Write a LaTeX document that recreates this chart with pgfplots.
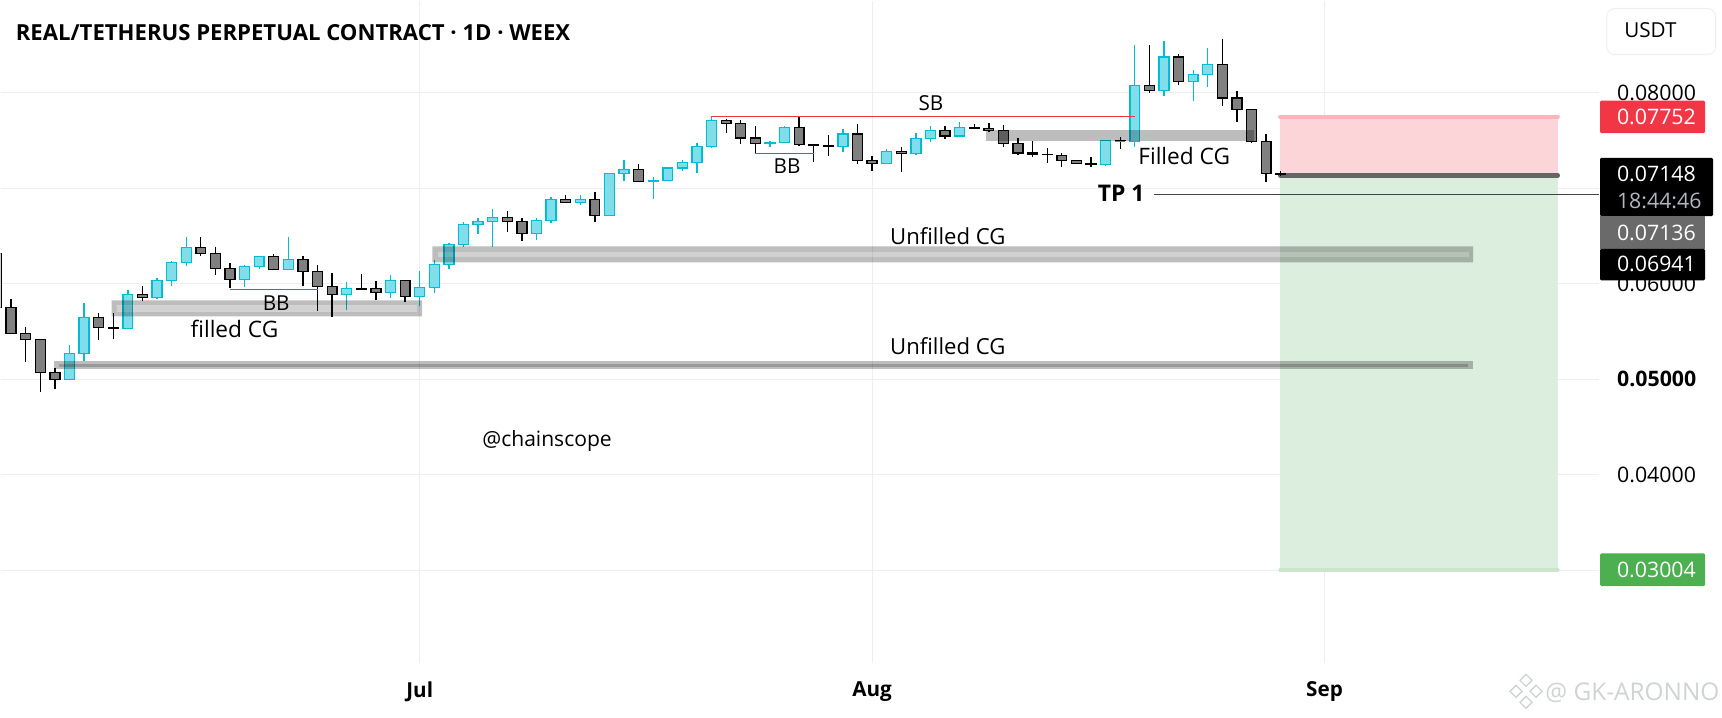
\documentclass[border=0pt]{standalone}
\usepackage{fontspec}
\setmainfont{Open Sans}
\usepackage{pgfplots}
\usepackage{pgfplotstable}
\pgfplotsset{compat=1.18}
\definecolor{upfill}{HTML}{80DEEA}
\definecolor{upline}{HTML}{00BCD4}
\definecolor{dnfill}{HTML}{808080}
\definecolor{gridc}{HTML}{EEEEEE}
\definecolor{tvred}{HTML}{F23645}
\definecolor{tvteal}{HTML}{089981}
\definecolor{pinkz}{HTML}{FBD5D8}
\definecolor{greenz}{HTML}{DCEEDD}
\definecolor{pinkl}{HTML}{FFB3BA}
\definecolor{greenl}{HTML}{C8E6C9}
\definecolor{entryl}{HTML}{666666}
\definecolor{lblgreen}{HTML}{4CAF50}
\definecolor{lblgray}{HTML}{6A6A6A}
\definecolor{timec}{HTML}{B2B5BE}
\definecolor{wm}{HTML}{D0D3D3}
\definecolor{tpl}{HTML}{444444}
\pgfplotstableread{
d o h l c
-24 0.04996 0.05355 0.04996 0.05268
-23 0.05268 0.05795 0.05191 0.05645
-20 0.05530 0.05931 0.05530 0.05886
-18 0.05855 0.06064 0.05840 0.06033
-17 0.06033 0.06235 0.05976 0.06221
-16 0.06221 0.06486 0.06185 0.06378
-12 0.06043 0.06193 0.05962 0.06179
-11 0.06179 0.06297 0.06154 0.06284
-9 0.06148 0.06486 0.06148 0.06252
-5 0.05886 0.06015 0.05722 0.05949
-2 0.05907 0.06088 0.05847 0.06033
0 0.05865 0.06130 0.05764 0.05959
1 0.05959 0.06245 0.05903 0.06200
2 0.06200 0.06423 0.06154 0.06409
3 0.06409 0.06653 0.06384 0.06619
4 0.06619 0.06692 0.06520 0.06650
5 0.06650 0.06786 0.06384 0.06692
8 0.06525 0.06692 0.06458 0.06661
9 0.06661 0.06912 0.06636 0.06880
11 0.06849 0.06933 0.06831 0.06880
13 0.06713 0.07153 0.06713 0.07153
14 0.07153 0.07292 0.07072 0.07195
16 0.07075 0.07114 0.06884 0.07079
17 0.07079 0.07229 0.07079 0.07215
18 0.07215 0.07292 0.07187 0.07268
19 0.07268 0.07480 0.07159 0.07435
20 0.07435 0.07752 0.07421 0.07708
24 0.07467 0.07501 0.07438 0.07477
25 0.07477 0.07658 0.07477 0.07634
29 0.07435 0.07624 0.07386 0.07571
32 0.07257 0.07414 0.07257 0.07383
34 0.07362 0.07585 0.07352 0.07519
35 0.07519 0.07648 0.07483 0.07603
37 0.07550 0.07700 0.07540 0.07634
47 0.07247 0.07509 0.07232 0.07498
49 0.07488 0.08503 0.07431 0.08074
51 0.08022 0.08538 0.07965 0.08377
53 0.08116 0.08241 0.07913 0.08189
54 0.08189 0.08475 0.08059 0.08294
}\upcandles
\pgfplotstableread{
d o h l c
-29 0.06315 0.06350 0.05722 0.05750
-28 0.05750 0.05837 0.05478 0.05478
-27 0.05478 0.05544 0.05181 0.05415
-26 0.05415 0.05415 0.04866 0.05070
-25 0.05070 0.05122 0.04898 0.04996
-22 0.05645 0.05690 0.05415 0.05541
-21 0.05541 0.05690 0.05421 0.05530
-19 0.05886 0.05973 0.05819 0.05855
-15 0.06378 0.06496 0.06290 0.06315
-14 0.06315 0.06381 0.06091 0.06158
-13 0.06158 0.06214 0.05952 0.06043
-10 0.06284 0.06308 0.06148 0.06148
-8 0.06252 0.06287 0.05976 0.06127
-7 0.06127 0.06193 0.05711 0.05970
-6 0.05970 0.06109 0.05652 0.05886
-4 0.05949 0.06099 0.05934 0.05945
-3 0.05949 0.06025 0.05826 0.05907
-1 0.06033 0.06033 0.05805 0.05865
6 0.06692 0.06768 0.06541 0.06650
7 0.06650 0.06692 0.06447 0.06525
10 0.06880 0.06926 0.06849 0.06849
12 0.06880 0.06967 0.06646 0.06713
15 0.07195 0.07250 0.07069 0.07069
21 0.07708 0.07728 0.07578 0.07676
22 0.07676 0.07718 0.07467 0.07529
23 0.07529 0.07658 0.07362 0.07467
26 0.07634 0.07752 0.07442 0.07456
27 0.07456 0.07467 0.07274 0.07452
28 0.07446 0.07564 0.07344 0.07442
30 0.07571 0.07676 0.07253 0.07289
31 0.07289 0.07334 0.07180 0.07257
33 0.07383 0.07435 0.07169 0.07362
36 0.07603 0.07658 0.07515 0.07550
38 0.07634 0.07672 0.07620 0.07630
39 0.07624 0.07687 0.07588 0.07603
40 0.07603 0.07666 0.07431 0.07467
41 0.07467 0.07529 0.07347 0.07372
42 0.07372 0.07498 0.07326 0.07352
43 0.07355 0.07425 0.07264 0.07352
44 0.07341 0.07372 0.07222 0.07289
45 0.07289 0.07289 0.07257 0.07257
46 0.07257 0.07331 0.07222 0.07247
48 0.07501 0.07540 0.07410 0.07498
50 0.08074 0.08503 0.08001 0.08022
52 0.08377 0.08409 0.08080 0.08116
55 0.08294 0.08559 0.07860 0.07948
56 0.07948 0.08022 0.07693 0.07823
57 0.07823 0.07823 0.07473 0.07488
58 0.07488 0.07571 0.07065 0.07153
59 0.07153 0.07180 0.07128 0.07148
}\dncandles
% candles from table #1: wick colour #3, body fill #4
\newcommand\drawcandles[4]{%
  \pgfplotstablegetrowsof{#1}\pgfmathtruncatemacro\nrows{\pgfplotsretval-1}%
  \pgfplotsinvokeforeach{0,...,\nrows}{%
    \pgfplotstablegetelem{##1}{d}\of{#1}\let\cd\pgfplotsretval
    \pgfplotstablegetelem{##1}{o}\of{#1}\let\co\pgfplotsretval
    \pgfplotstablegetelem{##1}{h}\of{#1}\let\ch\pgfplotsretval
    \pgfplotstablegetelem{##1}{l}\of{#1}\let\cl\pgfplotsretval
    \pgfplotstablegetelem{##1}{c}\of{#1}\let\cc\pgfplotsretval
    \pgfmathsetmacro\xa{\cd-0.34}\pgfmathsetmacro\xb{\cd+0.34}%
    \edef\tmp{\noexpand\addplot[forget plot,#3,line width=1pt,mark=none] coordinates {(\cd,\cl)(\cd,\ch)};
      \noexpand\addplot[forget plot,draw=#3,fill=#4,line width=1pt,mark=none] coordinates {(\xa,\co)(\xb,\co)(\xb,\cc)(\xa,\cc)} --cycle;}\tmp
  }%
}
\begin{document}
\begin{tikzpicture}
\begin{axis}[
  at={(0pt,-497.25pt)},anchor=south west,
  scale only axis,width=1199.25pt,height=497.25pt,
  xmin=-28.725,xmax=80.82,ymin=0.020265,ymax=0.089668,
  axis line style={draw=none},major tick length=0pt,tick style={draw=none},
  grid=major,grid style={gridc,line width=0.8pt},
  xtick={0,31,62},xticklabels={\textbf{Jul},\textbf{Aug},\textbf{Sep}},
  xticklabel style={font=\fontsize{15.5}{16}\selectfont,anchor=center,yshift=-21pt,inner sep=0pt},
  ytick={0.03,0.04,0.05,0.06,0.07,0.08},
  yticklabels={,0.04000,\textbf{0.05000},0.06000,,0.08000},
  yticklabel pos=right,
  yticklabel style={font=\fontsize{16}{16}\selectfont,anchor=west,xshift=13.3pt,inner sep=0pt},
  scaled y ticks=false,
]
% position tool
\addplot[forget plot,draw=none,fill=pinkz] coordinates {(58.96,0.07136)(77.99,0.07136)(77.99,0.07752)(58.96,0.07752)} --cycle;
\addplot[forget plot,draw=none,fill=greenz] coordinates {(58.96,0.03004)(77.99,0.03004)(77.99,0.07136)(58.96,0.07136)} --cycle;
\addplot[forget plot,pinkl,line width=3pt,line cap=round] coordinates {(58.96,0.07752)(77.99,0.07752)};
\addplot[forget plot,greenl,line width=2.6pt,line cap=round] coordinates {(58.96,0.03004)(77.99,0.03004)};
\addplot[forget plot,entryl,line width=3.2pt,line cap=round] coordinates {(58.96,0.07136)(77.99,0.07136)};
% candles
\drawcandles{\upcandles}{0}{upline}{upfill}
\drawcandles{\dncandles}{0}{black}{dnfill}
% gap zones
\addplot[forget plot,draw=none,fill=black,fill opacity=.26,even odd rule] coordinates {(-21.12,0.05659)(0.16,0.05659)(0.16,0.05826)(-21.12,0.05826)(-21.12,0.05659)(-20.78,0.05711)(-0.18,0.05711)(-0.18,0.05771)(-20.78,0.05771)(-20.78,0.05711)} --cycle;
\addplot[forget plot,draw=none,fill=black,fill opacity=.18] coordinates {(-20.78,0.05711)(-0.18,0.05711)(-0.18,0.05771)(-20.78,0.05771)} --cycle;
\addplot[forget plot,draw=none,fill=black,fill opacity=.26,even odd rule] coordinates {(0.87,0.06224)(72.19,0.06224)(72.19,0.06392)(0.87,0.06392)(0.87,0.06224)(1.21,0.06276)(71.85,0.06276)(71.85,0.06339)(1.21,0.06339)(1.21,0.06276)} --cycle;
\addplot[forget plot,draw=none,fill=black,fill opacity=.18] coordinates {(1.21,0.06276)(71.85,0.06276)(71.85,0.06339)(1.21,0.06339)} --cycle;
\addplot[forget plot,draw=none,fill=black,fill opacity=.26] coordinates {(-25.09,0.05104)(72.19,0.05104)(72.19,0.05188)(-25.09,0.05188)} --cycle;
\addplot[forget plot,draw=none,fill=black,fill opacity=.19] coordinates {(-24.75,0.05132)(71.85,0.05132)(71.85,0.05160)(-24.75,0.05160)} --cycle;
\addplot[forget plot,draw=none,fill=black,fill opacity=.26] coordinates {(38.82,0.07501)(57.18,0.07501)(57.18,0.07606)(38.82,0.07606)} --cycle;
% levels
\addplot[forget plot,tvred,line width=.8pt] coordinates {(19.96,0.07752)(49.03,0.07752)};
\addplot[forget plot,tvteal,line width=.8pt] coordinates {(-13.03,0.05938)(-6.99,0.05938)};
\addplot[forget plot,tvteal,line width=.8pt] coordinates {(22.95,0.07362)(26.99,0.07362)};
\addplot[forget plot,tpl,line width=.6pt] coordinates {(50.35,0.06941)(80.82,0.06941)};
\end{axis}
\begin{scope}[x=0.75pt,y=-0.75pt]
\useasboundingbox (0,0) rectangle (1722,717);
\tikzset{lab/.style={font=\fontsize{15.5}{16}\selectfont,inner sep=0pt,anchor=center},
  plab/.style={font=\fontsize{16}{16}\selectfont,inner sep=0pt,anchor=west,text=white}}
\node[anchor=west,inner sep=0pt,font=\fontsize{16.6}{18}\selectfont\bfseries] at (15,32) {REAL/TETHERUS PERPETUAL CONTRACT · 1D · WEEX};
\node[lab] at (930.7,102.3) {SB};
\node[lab] at (275.7,302.3) {BB};
\node[lab] at (786.7,165.7) {BB};
\node[lab,font=\fontsize{17}{18}\selectfont] at (234,329) {filled CG};
\node[lab,font=\fontsize{17}{18}\selectfont] at (1184,156) {Filled CG};
\node[lab,font=\fontsize{16.6}{18}\selectfont] at (947.6,236) {Unfilled CG};
\node[lab,font=\fontsize{16.6}{18}\selectfont] at (947.6,346) {Unfilled CG};
\node[lab,font=\fontsize{15.8}{18}\selectfont] at (546.7,441) {@chainscope};
\node[lab,font=\fontsize{17.2}{18}\selectfont\bfseries] at (1121,192.5) {TP 1};
% price labels
\fill[tvred,rounded corners=1pt] (1600,100) rectangle (1705,132.7);
\node[plab] at (1616.7,116.5) {0.07752};
\fill[black,rounded corners=1pt] (1600,157.3) rectangle (1713,215.7);
\node[plab] at (1616.7,173) {0.07148};
\node[plab,text=timec] at (1616.7,200) {18:44:46};
\fill[lblgray] (1600,216) rectangle (1705,248.3);
\node[plab] at (1616.7,232) {0.07136};
\fill[black,rounded corners=1pt] (1600,248.3) rectangle (1705,280);
\node[plab] at (1616.7,263.5) {0.06941};
\fill[lblgreen,rounded corners=1pt] (1600,553) rectangle (1705,585.7);
\node[plab] at (1616.7,569.5) {0.03004};
\draw[black!6,line width=.8pt,rounded corners=6pt] (1606.7,8) rectangle (1715.7,54);
\node[anchor=west,inner sep=0pt,font=\fontsize{15.5}{16}\selectfont] at (1624,30) {USDT};
% watermark
\foreach \a/\b in {1526/680,1516/691,1536/691,1526/702}{
  \draw[wm,line width=1pt] (\a-6,\b) -- (\a,\b-6) -- (\a+6,\b) -- (\a,\b+6) -- cycle;}
\node[anchor=west,inner sep=0pt,text=wm,font=\fontsize{18.3}{19}\selectfont] at (1545,692) {@ GK-ARONNO};
\end{scope}
\end{tikzpicture}
\end{document}
